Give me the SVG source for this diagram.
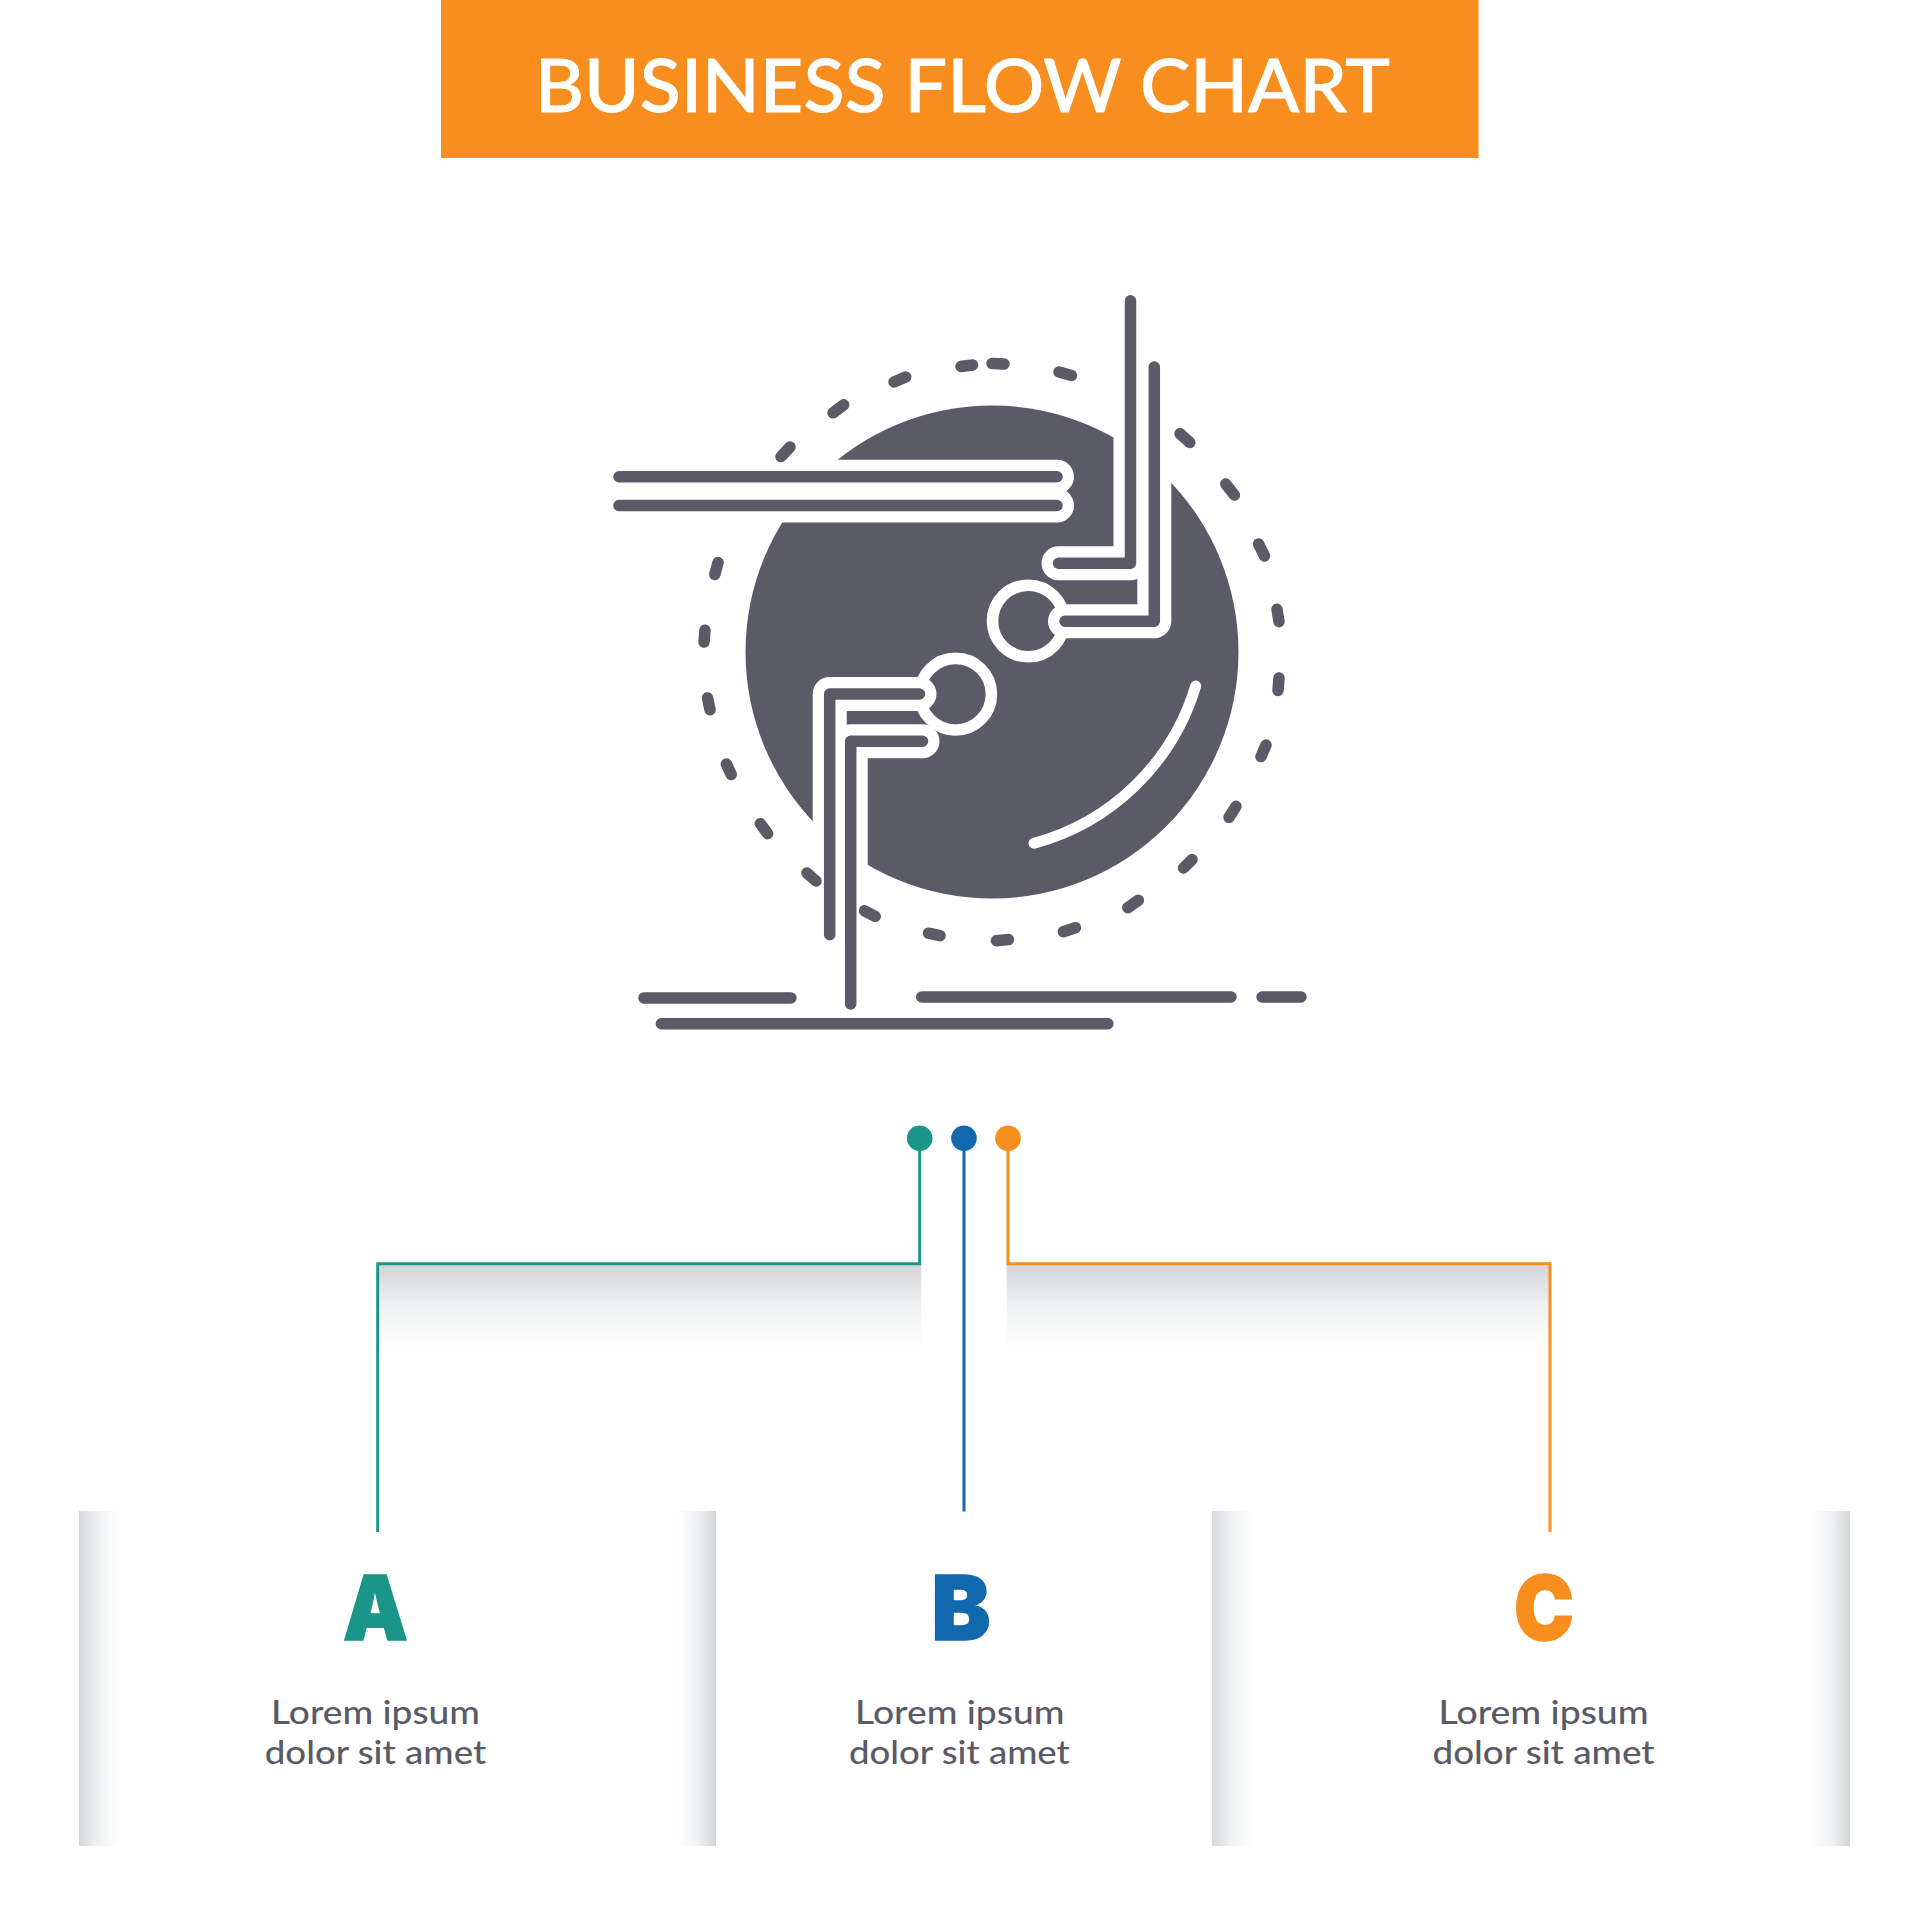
<svg xmlns="http://www.w3.org/2000/svg" width="1920" height="1920" viewBox="0 0 1920 1920">
<style>
.halo{fill:none;stroke:#fff;stroke-width:34;stroke-linecap:round;stroke-linejoin:round}
.ink{fill:none;stroke:#5b5a67;stroke-width:11.5;stroke-linecap:round;stroke-linejoin:round}
.ring{fill:none;stroke:#fff;stroke-width:11.6}
.title{font-family:"Lato","Liberation Sans",sans-serif;font-size:73px;font-weight:500;fill:#fff;stroke:#fff;stroke-width:.8}
.letter{font-family:"Inter","Liberation Sans",sans-serif;font-size:89.5px;font-weight:900;stroke-width:1.5}
.body{font-family:"Lato","Liberation Sans",sans-serif;font-size:33.5px;font-weight:500;fill:#5b5a67}
.wire{fill:none;stroke-width:3}
</style>
<defs>
<linearGradient id="gl" x1="0" x2="1" y1="0" y2="0"><stop offset="0" stop-color="#d6d8da"/><stop offset=".5" stop-color="#f0f2f3"/><stop offset="1" stop-color="#fff"/></linearGradient>
<linearGradient id="gr" x1="1" x2="0" y1="0" y2="0"><stop offset="0" stop-color="#d3d6d7"/><stop offset=".5" stop-color="#f0f2f3"/><stop offset="1" stop-color="#fff"/></linearGradient>
<linearGradient id="gv" x1="0" x2="0" y1="0" y2="1"><stop offset="0" stop-color="#d3d4d5"/><stop offset=".5" stop-color="#f0f2f3"/><stop offset="1" stop-color="#fff"/></linearGradient>
</defs>
<rect width="1920" height="1920" fill="#fff"/>
<g id="header">
<rect x="441" y="0" width="1037.5" height="158" fill="#f78e1e"/>
<text class="title" x="535" y="112" textLength="855" lengthAdjust="spacingAndGlyphs">BUSINESS FLOW CHART</text>
</g>
<g id="icon">
<circle cx="992" cy="652" r="246.5" fill="#5b5a67"/>
<circle class="ring" cx="1028.3" cy="621" r="35.8"/>
<circle class="ring" cx="955.6" cy="694.2" r="35.8"/>
<g class="halo">
<path d="M619 476.7H1057"/>
<path d="M619 505.5H1057"/>
<path d="M1130.5 300.7V563.3H1058.5"/>
<path d="M1154.3 367V621.3H1065"/>
<path d="M829.7 934.8V694H919.5"/>
<path d="M850.7 1004V741.3H922.5"/>
</g>
<g class="ink">
<path d="M619 476.7H1057"/>
<path d="M619 505.5H1057"/>
<path d="M1130.5 300.7V563.3H1058.5"/>
<path d="M1154.3 367V621.3H1065"/>
<path d="M829.7 934.8V694H919.5"/>
<path d="M850.7 1004V741.3H922.5"/>
<path d="M644 997.9H790.9"/>
<path d="M921.7 997H1231"/>
<path d="M1262 997H1301"/>
<path d="M661.4 1023.7H1107.9"/>
<path d="M961 366.5L972.6 365"/>
<path d="M992 363.5L1004 364"/>
<path d="M1059 372L1071.5 375.5"/>
<path d="M1180 433.7L1189.8 442.6"/>
<path d="M1225.7 484L1234.4 495"/>
<path d="M1258.6 544L1264.5 556"/>
<path d="M1277 609.3L1279 621.7"/>
<path d="M1279 678L1278 690.4"/>
<path d="M1266 745L1261 756.6"/>
<path d="M1236 806.3L1229 817.3"/>
<path d="M1192 859.6L1183.5 868"/>
<path d="M1138.4 900.3L1127.8 907.8"/>
<path d="M1075.4 927.7L1063.3 931.7"/>
<path d="M1008.5 939.6L996.4 940.7"/>
<path d="M940 935.7L928.5 933.2"/>
<path d="M875.2 916.3L864.5 910.8"/>
<path d="M816 881L806.9 873"/>
<path d="M767.6 833.7L760.3 823.7"/>
<path d="M731.2 774.5L726.4 764"/>
<path d="M710 709.8L707.5 697.9"/>
<path d="M704 642L705 630.2"/>
<path d="M714.8 574.5L718 562.5"/>
<path d="M781 456.6L790 447"/>
<path d="M833 412.8L843.7 404.8"/>
<path d="M894 382L905.7 377"/>
</g>
<path d="M1195.7 686A232 232 0 0 1 1034 843.3" fill="none" stroke="#fff" stroke-width="11" stroke-linecap="round"/>
</g>
<g id="shadows">
<rect x="378" y="1265" width="543.3" height="83" fill="url(#gv)"/>
<rect x="1006.7" y="1265" width="543" height="83" fill="url(#gv)"/>
</g>
<g id="connectors">
<path class="wire" stroke="#1a9688" d="M919.7 1138V1263.8H377.7V1532"/>
<path class="wire" stroke="#1168ad" d="M964 1138V1511.5"/>
<path class="wire" stroke="#f78e1e" d="M1008 1138V1263.8H1550V1532"/>
<circle cx="919.7" cy="1138.3" r="12.8" fill="#1a9688"/>
<circle cx="964" cy="1138.3" r="12.8" fill="#1168ad"/>
<circle cx="1008" cy="1138.3" r="12.8" fill="#f78e1e"/>
</g>
<g id="box-a">
<rect x="79" y="1511" width="40" height="335" fill="url(#gl)"/>
<rect x="678" y="1511" width="38" height="335" fill="url(#gr)"/>
<text class="letter" x="343" y="1640" fill="#1a9688" stroke="#1a9688" textLength="65" lengthAdjust="spacingAndGlyphs">A</text>
<text class="body" x="271" y="1724" textLength="209" lengthAdjust="spacingAndGlyphs">Lorem ipsum</text>
<text class="body" x="264.7" y="1764" textLength="221.5" lengthAdjust="spacingAndGlyphs">dolor sit amet</text>
</g>
<g id="box-b">
<text class="letter" x="931.5" y="1640" fill="#1168ad" stroke="#1168ad" textLength="59" lengthAdjust="spacingAndGlyphs">B</text>
<text class="body" x="855" y="1724" textLength="209.5" lengthAdjust="spacingAndGlyphs">Lorem ipsum</text>
<text class="body" x="849" y="1764" textLength="220.8" lengthAdjust="spacingAndGlyphs">dolor sit amet</text>
</g>
<g id="box-c">
<rect x="1212" y="1511" width="40" height="335" fill="url(#gl)"/>
<rect x="1812" y="1511" width="38" height="335" fill="url(#gr)"/>
<text class="letter" x="1514" y="1640" fill="#f78e1e" stroke="#f78e1e" textLength="60" lengthAdjust="spacingAndGlyphs">C</text>
<text class="body" x="1438.5" y="1724" textLength="210" lengthAdjust="spacingAndGlyphs">Lorem ipsum</text>
<text class="body" x="1432.5" y="1764" textLength="222" lengthAdjust="spacingAndGlyphs">dolor sit amet</text>
</g>
</svg>
